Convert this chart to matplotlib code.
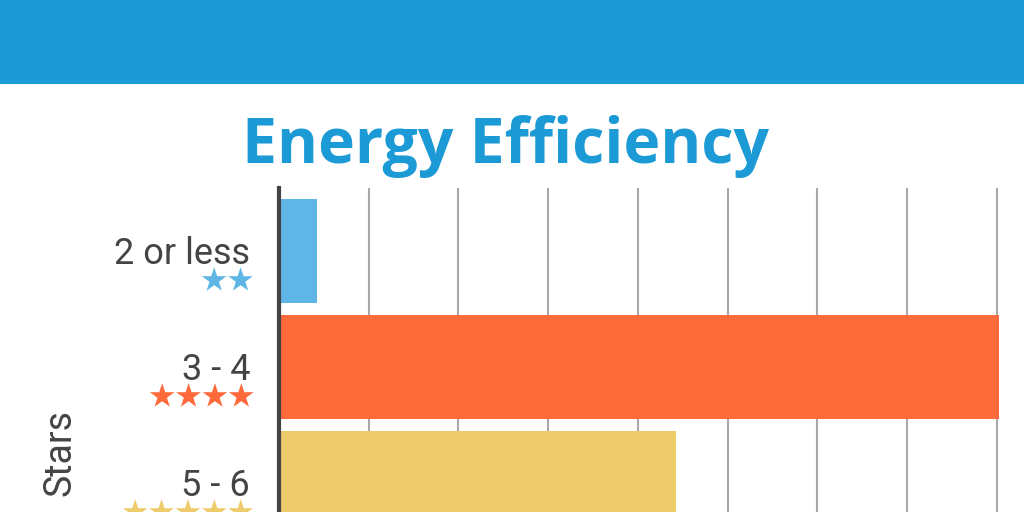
import matplotlib.pyplot as plt
from matplotlib.patches import Rectangle

# data
categories = ['2 or less', '3 - 4', '5 - 6']
star_counts = [2, 4, 5]
values = [4.2, 80.3, 44.3]
bar_colors = ['#5FB6E6', '#FE6A3A', '#EECB6B']

W, H = 1024, 512
fig = plt.figure(figsize=(W / 100, H / 100), dpi=100)
fig.patch.set_facecolor('white')

# blue band across the top
fig.patches.append(Rectangle((0, 1 - 84 / H), 1, 84 / H, transform=fig.transFigure,
                             facecolor='#1B9AD6', edgecolor='none', zorder=0))

fig.text(506 / W, 1 - 163 / H, 'Energy Efficiency', ha='center', va='baseline',
         fontsize=45, fontweight='bold', color='#1B9AD6', family='Open Sans')

# axes: left at x=279px, top at y=188px, running off the bottom of the picture
left, top = 279, 188
ax = fig.add_axes([left / W, 0, (W - left) / W, 1 - top / H])

y = list(range(len(categories)))
ax.barh(y, values, height=0.9, color=bar_colors, zorder=2)

px_per_unit_x = 89.7 / 10
ax.set_xlim(0, (W - left) / px_per_unit_x)
y_top = -0.545
ax.set_ylim(y_top + (H - top) / 116, y_top)

ax.set_xticks(range(10, 81, 10))
ax.grid(axis='x', color='#A8A8A8', linewidth=1.5, zorder=1)
ax.tick_params(length=0, labelbottom=False, labelleft=False)
for s in ['top', 'right', 'bottom']:
    ax.spines[s].set_visible(False)
ax.spines['left'].set_color('#444444')
ax.spines['left'].set_linewidth(3)
ax.spines['left'].set_zorder(3)

for i, (cat, n, c) in enumerate(zip(categories, star_counts, bar_colors)):
    ax.annotate(cat, xy=(0, i), xycoords=('axes fraction', 'data'),
                xytext=(-29, -13), textcoords='offset pixels',
                ha='right', va='baseline', fontsize=26, color='#444444',
                family='Roboto', annotation_clip=False)
    ax.annotate('\u2605' * n, xy=(0, i), xycoords=('axes fraction', 'data'),
                xytext=(-25, -31), textcoords='offset pixels',
                ha='right', va='center', fontsize=19, color=c,
                family='Noto Sans CJK SC', annotation_clip=False)

fig.text(60 / W, 1 - 452 / H, 'Stars', rotation=90, ha='center', va='center',
         fontsize=27, color='#444444', family='Roboto')

fig.savefig('out.png', dpi=100)
